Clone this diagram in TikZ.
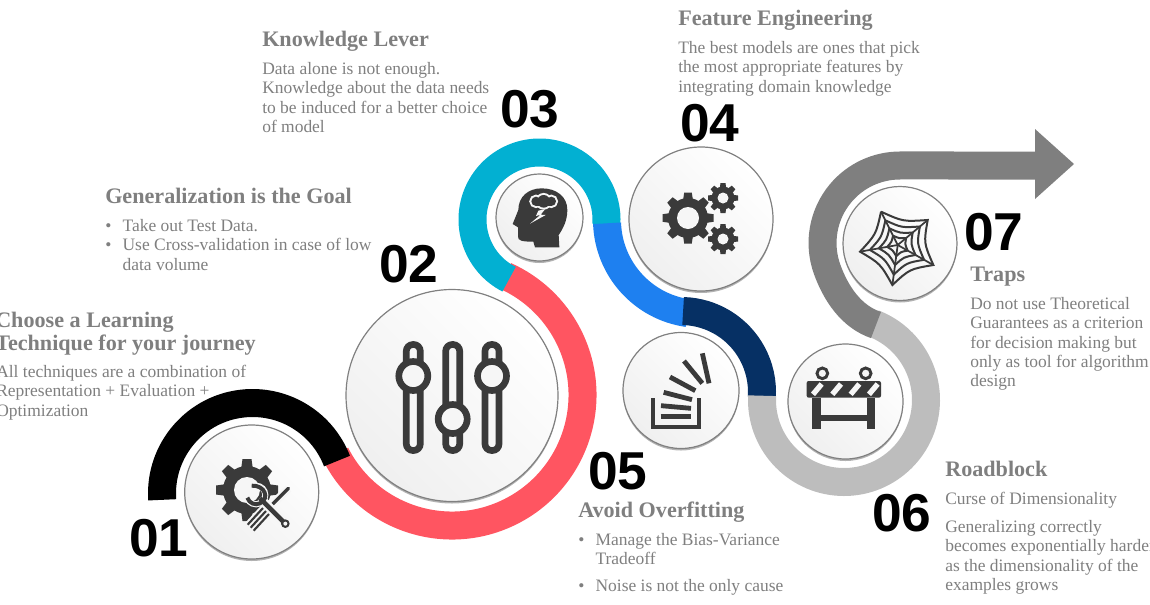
\documentclass[tikz,border=0pt]{standalone}
\usepackage{fontspec}
\setmainfont{Liberation Serif}
\newfontfamily\numfont{Liberation Sans}
\usetikzlibrary{shadows}
\definecolor{txtgray}{HTML}{7F7F7F}
\definecolor{iconfill}{HTML}{3A3A3A}
\definecolor{holefill}{HTML}{F6F6F6}
\definecolor{bandred}{HTML}{FF5561}
\definecolor{bandcyan}{HTML}{02B0D2}
\definecolor{bandblue}{HTML}{1E80F0}
\definecolor{bandnavy}{HTML}{063064}
\definecolor{bandlight}{HTML}{BDBDBD}
\definecolor{banddark}{HTML}{7F7F7F}
\tikzset{
  bandline/.style={line width=21pt},
  disc/.style={circle,draw=black!50,line width=.9pt,inner sep=0pt,minimum size={#1*.75pt},
    top color=black!6,bottom color=white,shading angle=135,
    drop shadow={shadow xshift=0pt,shadow yshift=-1.5pt,opacity=.5,fill=black!60}},
  numlabel/.style={anchor=base west,inner sep=0pt,text=black,font=\numfont\bfseries\fontsize{40}{40}\selectfont},
  headtext/.style={anchor=north west,inner sep=0pt,align=left,text=txtgray,font=\fontsize{16.6}{17.2}\selectfont},
  bodytext/.style={anchor=north west,inner sep=0pt,align=left,text=txtgray,font=\fontsize{13.1}{14.5}\selectfont},
  zoomed/.style 2 args={shift={(#1,-#2)},x=.25pt,y=-.25pt}
}
% band piece: colour, centre, start angle, end angle, radius
\newcommand\bandarc[5]{\draw[bandline,#1] ([shift={(#3:#5)}]#2) arc (#3:#4:#5);}
% gear: centre, outer radius, root radius, hole radius, tooth half width
\newcommand\gearicon[5]{%
  \begin{scope}[shift={(#1)}]
    \fill[iconfill] (0,0) circle (#3);
    \foreach \a in {0,45,...,315}
      \fill[iconfill,rotate=\a] (#3-1,-#5*1.25) -- (#2,-#5) -- (#2,#5) -- (#3-1,#5*1.25) -- cycle;
    \fill[holefill] (0,0) circle (#4);
  \end{scope}}
\newcommand\bl{\makebox[13pt][l]{\textbullet}}
\newcommand\ind{\hspace*{13pt}}
\begin{document}
\begin{tikzpicture}[x=.75pt,y=.75pt]
  \useasboundingbox (0,0) rectangle (1150,-604);
  % bands
  \bandarc{bandred}{452,-395}{207}{426}{130.5}
  \bandarc{black}{252.5,-493.5}{184}{21}{90.5}
  \bandarc{bandcyan}{539.5,-219.5}{243}{-4}{67}
  \bandarc{bandblue}{701,-220}{182}{262}{94}
  \bandarc{bandnavy}{681,-392}{88.5}{-3.5}{81}
  \bandarc{bandlight}{844,-400}{177}{429}{82}
  \draw[bandline,banddark] (876,-325) .. controls (851,-316.6) and (835.7,-293) .. (827.2,-269.5)
    arc (200:90:77.5) -- (1036,-165.5);
  \fill[banddark] (1035,-129) -- (1074,-164) -- (1035,-199) -- cycle;
  % discs
  \node[disc=134] (D1) at (251.7,-492) {};
  \node[disc=212] (D2) at (452,-395.5) {};
  \node[disc=87] (D3) at (539.5,-217.5) {};
  \node[disc=144] (D4) at (701,-219) {};
  \node[disc=116] (D5) at (681,-390.5) {};
  \node[disc=115] (D6) at (845.5,-401.5) {};
  \node[disc=114] (D7) at (900,-243.5) {};
  % numbers
  \node[numlabel] (N1) at (129,-556) {01};
  \node[numlabel] (N2) at (379,-282) {02};
  \node[numlabel] (N3) at (500,-127) {03};
  \node[numlabel] (N4) at (680,-141) {04};
  \node[numlabel] (N5) at (588,-489) {05};
  \node[numlabel] (N6) at (872,-531) {06};
  \node[numlabel] (N7) at (964,-250) {07};
  % texts
  \node[headtext] (H1) at (-5,-312) {{\bf Choose a Learning}\\{\bf Technique for your journey}};
  \node[bodytext] (T1) at (-4,-365) {All techniques are a combination of\\Representation + Evaluation +\\Optimization};
  \node[headtext] (H2) at (105,-188) {\bf Generalization is the Goal};
  \node[bodytext] (T2) at (105,-219) {\bl Take out Test Data.\\\bl Use Cross-validation in case of low\\\ind data volume};
  \node[headtext] (H3) at (262,-31) {\bf Knowledge Lever};
  \node[bodytext] (T3) at (262,-62) {Data alone is not enough.\\Knowledge about the data needs\\to be induced for a better choice\\of model};
  \node[headtext] (H4) at (678,-9.5) {\bf Feature Engineering};
  \node[bodytext] (T4) at (678,-41) {The best models are ones that pick\\the most appropriate features by\\integrating domain knowledge};
  \node[headtext] (H5) at (578,-502) {\bf Avoid Overfitting};
  \node[bodytext] (T5) at (578,-533) {\bl Manage the Bias-Variance\\\ind Tradeoff};
  \node[bodytext] (T6) at (578,-579) {\bl Noise is not the only cause};
  \node[headtext] (H6) at (945,-461) {\bf Roadblock};
  \node[bodytext] (T7) at (945,-492) {Curse of Dimensionality};
  \node[bodytext] (T8) at (945,-520) {Generalizing correctly\\becomes exponentially harder\\as the dimensionality of the\\examples grows};
  \node[headtext] (H7) at (970,-267) {\bf Traps};
  \node[bodytext] (T9) at (970,-297) {Do not use Theoretical\\Guarantees as a criterion\\for decision making but\\only as tool for algorithm\\design};
  % icon 01: gear with wrench and screwdriver
  \gearicon{247,-490}{31}{24}{13}{4.5}
  \begin{scope}[zoomed={210}{455}]
    \draw[holefill,line width=6pt] (235,100) -- (180,155);
    \draw[holefill,line width=11pt] (180,155) -- (122,218);
    \draw[iconfill,line width=2.5pt,line cap=round] (235,100) -- (180,155);
    \foreach \d in {-9,0,9}
      \draw[iconfill,line width=1.6pt] (180+\d,155+\d) -- (122+\d,218+\d);
    \draw[holefill,line width=7pt] (150,130) -- (225,205);
    \draw[holefill,line width=4.5pt] (138,120) circle (28);
    \fill[holefill] (105,112) -- (140,118) -- (128,82) -- (95,85) -- cycle;
    \draw[iconfill,line width=3.4pt] (150,130) -- (225,205);
    \draw[iconfill,line width=3pt] (125,92) .. controls (165,90) and (180,130) .. (150,145) .. controls (135,152) and (118,145) .. (112,128);
    \fill[iconfill] (226,206) circle (13);
    \fill[holefill] (226,206) circle (6);
  \end{scope}
  % icon 02: sliders
  \foreach \x/\k in {413.3/376,452.7/419,492/376} {
    \draw[iconfill,fill=holefill,line width=5pt,rounded corners=5pt] (\x-7,-344.5) rectangle (\x+7,-450.5);
    \draw[iconfill,fill=holefill,line width=5pt] (\x,-\k) circle (14.5);
  }
  % icon 03: head with cloud and lightning
  \begin{scope}[zoomed={450}{120}]
    \fill[iconfill] (255,382) -- (328,382) -- (326,345) .. controls (340,325) and (352,300) .. (352,270)
      .. controls (352,230) and (320,205) .. (275,205) .. controls (235,205) and (205,230) .. (205,270)
      -- (188,312) -- (204,322) -- (204,350) .. controls (204,362) and (215,365) .. (250,365) -- cycle;
    \foreach \c/\r in {258/14,281/19,304/14}
      \draw[holefill,line width=3pt] (\c,244) circle (\r);
    \foreach \c/\r in {258/14,281/19,304/14}
      \fill[iconfill] (\c,244) circle (\r);
    \fill[iconfill] (258,244) rectangle (304,258);
    \fill[holefill] (285,268) -- (265,272) -- (258,288) -- (272,284) -- (240,311) -- (287,285) -- (272,284) -- cycle;
  \end{scope}
  % icon 04: three gears
  \gearicon{688,-218}{25.5}{20}{11}{3.8}
  \gearicon{723,-198}{15}{11.5}{5.5}{2.5}
  \gearicon{723,-239}{15}{11.5}{5.5}{2.5}
  % icon 05: stack of papers in a tray
  \begin{scope}[zoomed={610}{290}]
    \draw[iconfill,line width=3pt] (129,325) -- (129,412) -- (267,412) -- (267,325);
    \foreach \a/\b/\c/\d in {152/379/242/379,153/347/243/355,161/307/246/329,180/261/256/302,222/213/277/280,277/190/297/280}
      \draw[iconfill,line width=3.6pt] (\a,\b) -- (\c,\d);
  \end{scope}
  % icon 06: road barrier
  \begin{scope}[zoomed={610}{290}]
    \draw[iconfill,fill=holefill,line width=2.2pt] (637,250) circle (16);
    \draw[iconfill,fill=holefill,line width=2.2pt] (767,250) circle (16);
    \fill[iconfill,rounded corners=1.5pt] (590,273) rectangle (813,323);
    \foreach \x in {622,680,735,790}
      \draw[holefill,line width=4pt] (\x-13,313) -- (\x+13,282);
    \fill[iconfill] (606,323) rectangle (632,418);
    \fill[iconfill] (770,323) rectangle (796,418);
    \fill[iconfill] (632,375) rectangle (770,392);
  \end{scope}
  % icon 07: spider web
  \begin{scope}[shift={(897.7,-245)},x=.25pt,y=-.25pt]
    \foreach \tx/\ty in {-50/-100,90/-75,107/60,-16/120,-113/20}
      \draw[iconfill,line width=1.3pt] (0,0) -- (\tx,\ty);
    \foreach \s in {1,.74,.5,.28}
      \draw[iconfill,line width=1.5pt,scale=\s] (-50,-100) .. controls (16,-70) .. (90,-75) .. controls (78,-6) .. (107,60)
        .. controls (36,72) .. (-16,120) .. controls (-52,56) .. (-113,20) .. controls (-65,-32) .. (-50,-100);
  \end{scope}
\end{tikzpicture}
\end{document}
